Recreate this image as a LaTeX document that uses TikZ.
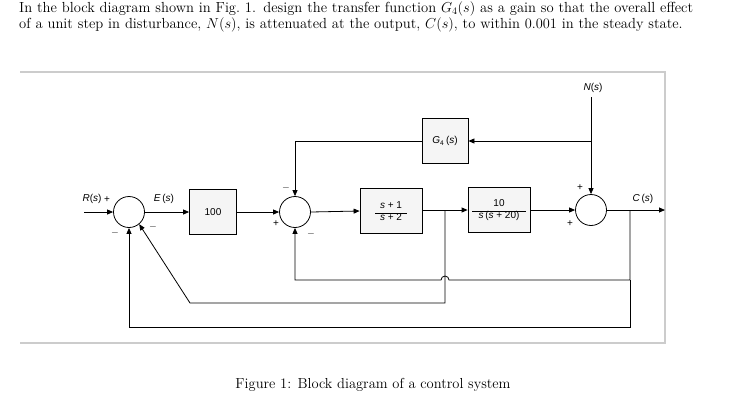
\documentclass[tikz,border=0pt]{standalone}
\usepackage{fontspec}
\newfontfamily\dsans{Liberation Sans}
\usetikzlibrary{arrows.meta}
\begin{document}
\begin{tikzpicture}[x=1pt,y=-1pt,
  blk/.style={draw,thick,fill=gray!8,minimum width=#1,minimum height=45pt,inner sep=0pt,font=\dsans\fontsize{10}{11}\selectfont},
  sum/.style={draw,thick,circle,minimum size=31pt,inner sep=0pt},
  lab/.style={font=\dsans\fontsize{10}{11}\selectfont},
  sg/.style={font=\dsans\fontsize{10}{10}\selectfont,inner sep=0pt},
  ar/.style={thick,-{Triangle[length=6pt,width=5pt]}}]
\useasboundingbox (0,0) rectangle (746,400);
\node[anchor=north west,align=left,inner sep=0pt,text width=688pt,font=\fontsize{14.6}{16.5}\selectfont] (txt) at (19,1)
{In the block diagram shown in Fig.\ 1. design the transfer function $G_4(s)$ as a gain so that the overall effect of a unit step in disturbance, $N(s)$, is attenuated at the output, $C(s)$, to within $0.001$ in the steady state.};
\draw[gray!40,line width=1.5pt] (20,72) -- (665,72) -- (665,343) -- (20,343);
\node[sum] (s1) at (129,212) {};
\node[blk=47pt] (b100) at (213,212) {100};
\node[sum] (s2) at (295,212) {};
\node[blk=62pt,align=center] (b1) at (391,211) {\textit{s} + 1\\[-6pt]\rule{32pt}{0.6pt}\\[-4pt]\textit{s} + 2};
\node[blk=62pt,align=center] (b2) at (499,210) {10\\[-6pt]\rule{54pt}{0.6pt}\\[-4pt]\textit{s}\,(\textit{s} + 20)};
\node[sum] (s3) at (591,210) {};
\node[blk=46pt] (g4) at (445,141) {\textit{G}$_{\mathsf{4}}$\,(\textit{s})};
\coordinate (rin) at (84,212);
\coordinate (nin) at (591,97);
\coordinate (cout) at (665,210);
\coordinate (br) at (445,210);
\coordinate (co) at (630,210);
\node[lab] (R) at (92,199) {\textit{R}(\textit{s})};
\node[lab] (E) at (164,199) {\textit{E}\,(\textit{s})};
\node[lab] (N) at (593,88) {\textit{N}(\textit{s})};
\node[lab] (C) at (643,199) {\textit{C}\,(\textit{s})};
\draw[ar] (rin) -- (s1.west);
\draw[ar] (s1.east) -- (b100.west);
\draw[ar] (b100.east) -- (s2.west);
\draw[ar] (s2.east) -- (b1.west);
\draw[ar] (b1.east |- br) -- (b2.west);
\draw[ar] (b2.east |- s3) -- (s3.west);
\draw[ar] (s3.east) -- (cout);
\draw[ar] (nin) -- (s3.north);
\draw[ar] (nin |- g4) -- (g4.east);
\draw[ar] (g4.west) -| (s2.north);
\draw[ar] (co) -- (co |- 0,280) -- (449,280) arc[start angle=0,end angle=-180,radius=4] -- (s2 |- 0,280) -- (s2.south);
\draw[ar] (br) -- (br |- 0,303) -- (190,303) -- (s1.-50);
\draw[ar] (co |- 0,280) -- (co |- 0,327) -- (s1 |- 0,327) -- (s1.south);
\node[sg] (p1) at (107,200) {+};
\node[sg] (m1) at (115,233) {$-$};
\node[sg] (m2) at (153,227) {$-$};
\node[sg] (m3) at (286,188) {$-$};
\node[sg] (p2) at (276,224) {+};
\node[sg] (m4) at (311,234) {$-$};
\node[sg] (p3) at (580,188) {+};
\node[sg] (p4) at (570,224) {+};
\node[font=\fontsize{14.5}{16}\selectfont] (cap) at (373,385) {Figure 1: Block diagram of a control system};
\end{tikzpicture}
\end{document}
